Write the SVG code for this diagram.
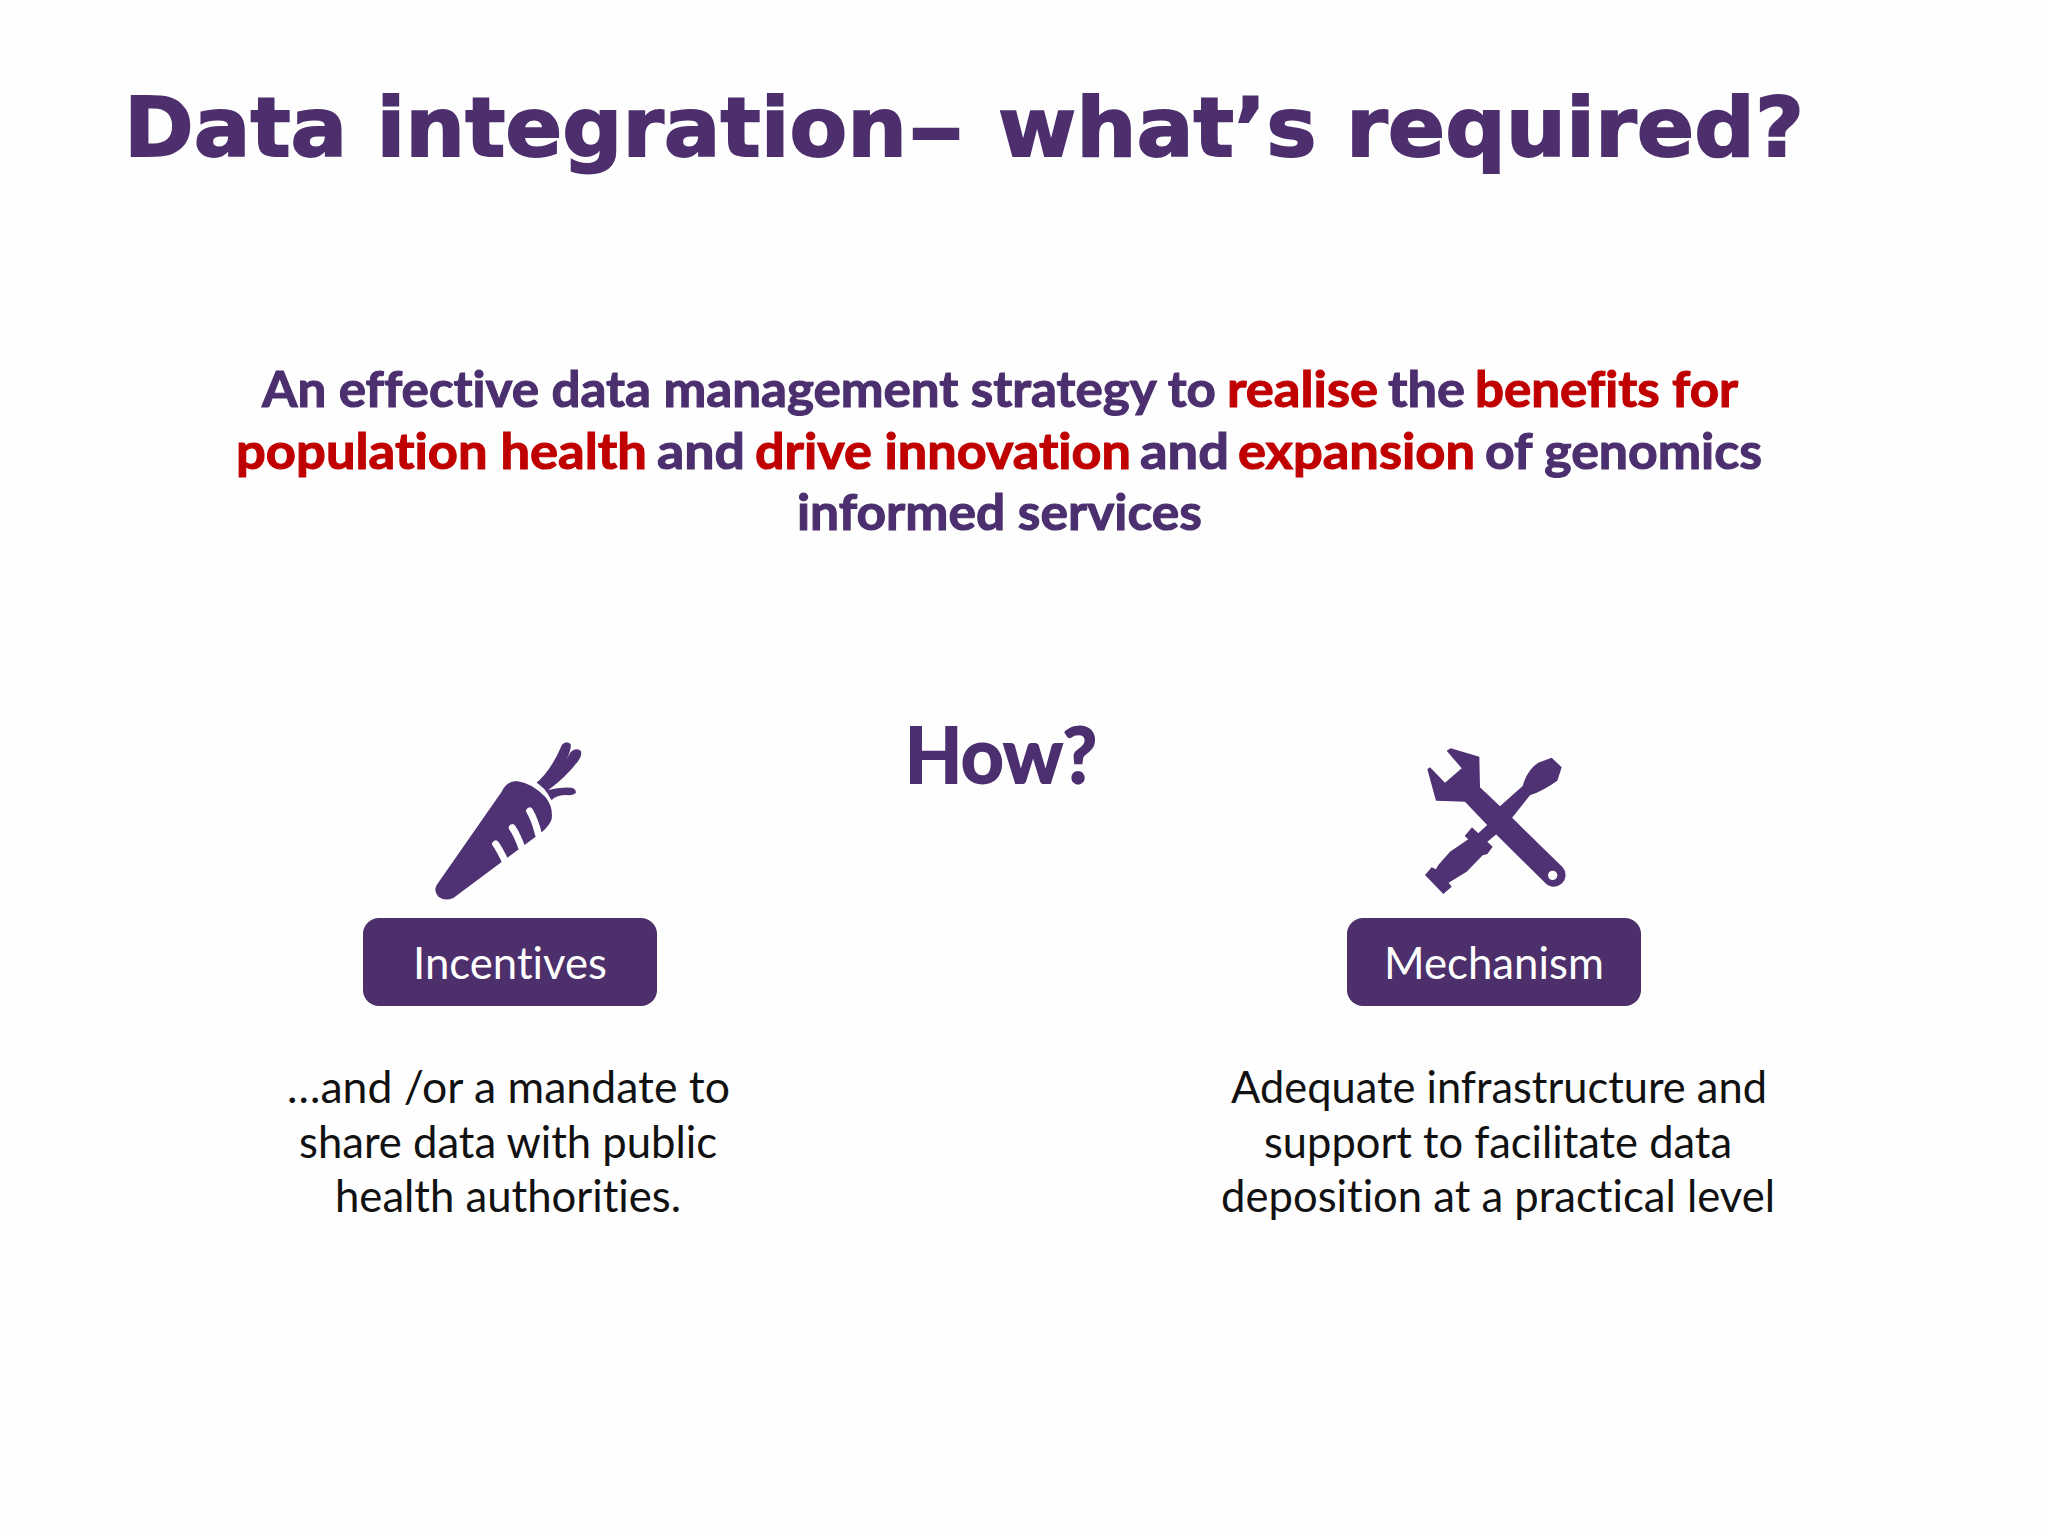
<svg xmlns="http://www.w3.org/2000/svg" width="2048" height="1536" viewBox="0 0 2048 1536">
<style>
text{font-variant-ligatures:none}
.title{font-family:"DejaVu Sans",sans-serif;font-weight:700;font-size:82px;fill:#4d2f6d;stroke:#4d2f6d;stroke-width:1.8}
.lead{font-family:Lato,"Open Sans",sans-serif;font-weight:700;font-size:50px;stroke-width:1.1}
.p{fill:#4b2f6e;stroke:#4b2f6e}.r{fill:#c00000;stroke:#c00000}
.how{font-family:Lato,"Open Sans",sans-serif;font-weight:700;font-size:76px;fill:#4b2f6e;stroke:#4b2f6e;stroke-width:2}
.lab{font-family:Lato,"Open Sans",sans-serif;font-size:44px;fill:#fff}
.body{font-family:Lato,"Open Sans",sans-serif;font-size:44px;fill:#111}
.box{fill:#4c2f6b}
.icon{fill:#4f3273}
.cut{fill:none;stroke:#fefefe;stroke-linecap:round}
</style>
<rect width="2048" height="1536" fill="#fefefe"/>
<g id="title"><text class="title" y="156"><tspan x="124" textLength="783" lengthAdjust="spacingAndGlyphs">Data integration</tspan><tspan x="908" textLength="56" lengthAdjust="spacingAndGlyphs">–</tspan><tspan x="998" textLength="806" lengthAdjust="spacingAndGlyphs">what’s required?</tspan></text></g>
<g id="lead">
<text class="lead" y="407"><tspan class="p" x="262" textLength="954" lengthAdjust="spacingAndGlyphs">An effective data management strategy to</tspan><tspan class="r" x="1227" textLength="151" lengthAdjust="spacingAndGlyphs">realise</tspan><tspan class="p" x="1388" textLength="77" lengthAdjust="spacingAndGlyphs">the</tspan><tspan class="r" x="1475" textLength="263" lengthAdjust="spacingAndGlyphs">benefits for</tspan></text>
<text class="lead" y="469"><tspan class="r" x="236" textLength="411" lengthAdjust="spacingAndGlyphs">population health</tspan><tspan class="p" x="657" textLength="88" lengthAdjust="spacingAndGlyphs">and</tspan><tspan class="r" x="755" textLength="376" lengthAdjust="spacingAndGlyphs">drive innovation</tspan><tspan class="p" x="1140" textLength="89" lengthAdjust="spacingAndGlyphs">and</tspan><tspan class="r" x="1238" textLength="237" lengthAdjust="spacingAndGlyphs">expansion</tspan><tspan class="p" x="1485" textLength="277" lengthAdjust="spacingAndGlyphs">of genomics</tspan></text>
<text class="lead p" x="797" y="530" textLength="405" lengthAdjust="spacingAndGlyphs">informed services</text>
</g>
<g id="how"><text class="how" x="905" y="783" textLength="192" lengthAdjust="spacingAndGlyphs">How?</text></g>
<g id="incentives">
<g transform="translate(400 720) scale(.33333)">
<path class="icon" d="M405 192Q452 155 486 74Q498 60 512 72Q515 85 500 118L512 96Q526 82 542 92Q548 104 535 122Q500 170 445 210Q480 200 515 203Q530 207 527 220Q515 228 500 225Q470 225 455 240Z"/>
<path class="cut" stroke-width="8" d="M398 186Q432 203 450 242"/>
<path class="icon" d="M110 495L305 215Q320 183 350 183Q395 188 437 232Q460 262 455 297Q450 315 425 337L160 534Q135 545 115 530Q100 515 110 495Z"/>
<path class="cut" stroke-width="21" d="M389 273Q405 300 416 345M337 323Q352 345 366 385M287 372Q300 390 316 425"/>
</g>
<rect class="box" x="363" y="918" width="294" height="88" rx="16"/>
<text class="lab" x="413" y="979" textLength="194" lengthAdjust="spacingAndGlyphs">Incentives</text>
<text class="body" x="287" y="1103" textLength="443" lengthAdjust="spacingAndGlyphs">…and /or a mandate to</text>
<text class="body" x="299" y="1158" textLength="418" lengthAdjust="spacingAndGlyphs">share data with public</text>
<text class="body" x="335" y="1212" textLength="346" lengthAdjust="spacingAndGlyphs">health authorities.</text>
</g>
<g id="mechanism">
<g transform="translate(1400 730) scale(.33333)">
<path class="icon" d="M298 230L368 168Q382 118 415 98L455 83L485 112L472 152Q430 182 390 196L334 266Z"/>
<path class="icon" d="M265 282L235 310L216 292L194 318L205 328L150 365L115 405L108 418L95 412L75 435L130 492L155 470L146 458L200 425L248 376L262 372L278 350L262 335L290 312Z"/>
<path class="icon" d="M140 62L152 55L238 80L240 172L335 262L488 412A33 33 0 0 1 435 458L285 310L195 215L108 212L82 118L90 112L135 158L185 115Z"/>
<circle cx="458" cy="436" r="14" fill="#fefefe"/>
</g>
<rect class="box" x="1347" y="918" width="294" height="88" rx="16"/>
<text class="lab" x="1384" y="979" textLength="220" lengthAdjust="spacingAndGlyphs">Mechanism</text>
<text class="body" x="1231" y="1103" textLength="536" lengthAdjust="spacingAndGlyphs">Adequate infrastructure and</text>
<text class="body" x="1264" y="1158" textLength="468" lengthAdjust="spacingAndGlyphs">support to facilitate data</text>
<text class="body" x="1221" y="1212" textLength="554" lengthAdjust="spacingAndGlyphs">deposition at a practical level</text>
</g>
</svg>
